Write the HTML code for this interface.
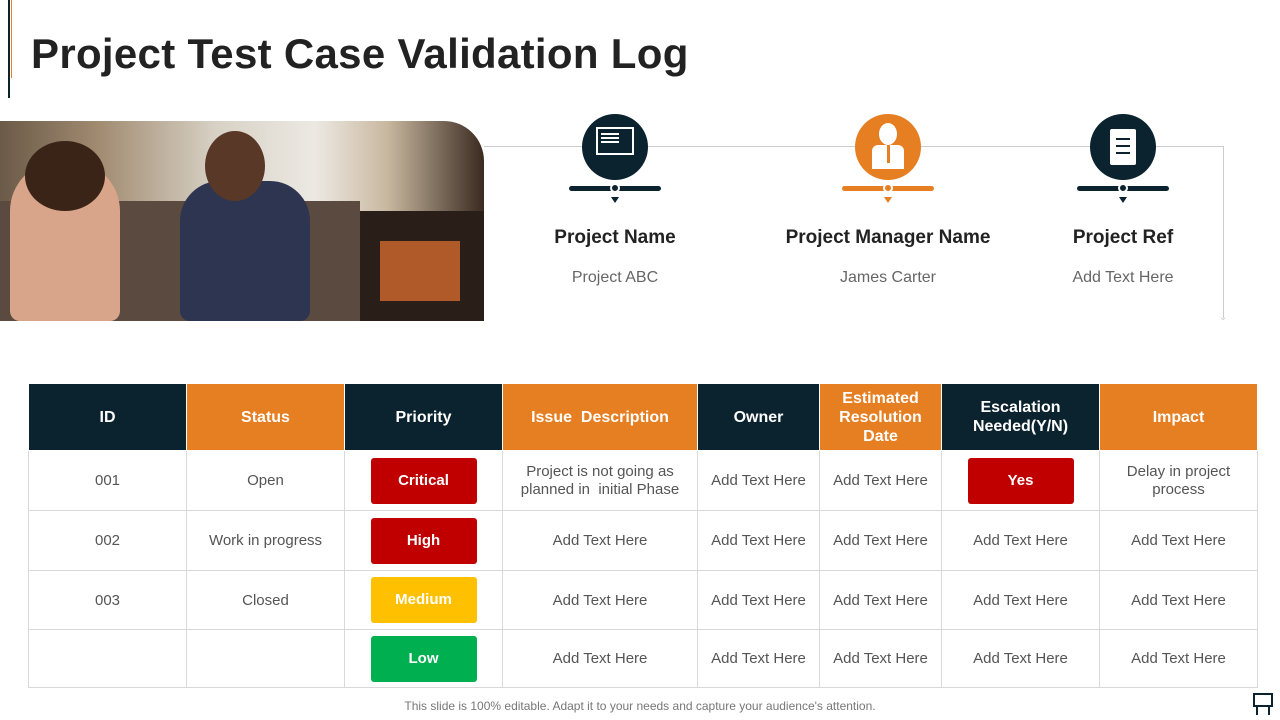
<!DOCTYPE html>
<html><head><meta charset="utf-8"><style>
*{margin:0;padding:0;box-sizing:border-box}
body{width:1280px;height:720px;background:#fff;position:relative;overflow:hidden;font-family:"Liberation Sans",sans-serif}
.abs{position:absolute}
h1{position:absolute;left:31px;top:30px;font-size:42px;font-weight:bold;color:#222;letter-spacing:0.3px}
table{position:absolute;left:28px;top:383px;border-collapse:collapse;table-layout:fixed}
td,th{border:1px solid #d9d9d9;text-align:center;font-size:15px;color:#555;padding:0}
th{color:#fff;font-weight:bold;font-size:16px;height:67px;border-color:#fff;line-height:19px}
.d{background:#0b222f}.o{background:#e67e22}
.b{display:inline-block;width:106px;height:46px;line-height:46px;color:#fff;font-weight:bold;border-radius:3px}
.t{font-size:15px;line-height:18px}
.ic{position:absolute;width:66px;height:66px;border-radius:50%}
.bar{position:absolute;height:5px;width:92px;border-radius:3px}
.dot{position:absolute;width:10px;height:10px;border-radius:50%}
.tri{position:absolute;width:0;height:0;border-left:4px solid transparent;border-right:4px solid transparent;border-top:6px solid}
.lab{position:absolute;width:260px;text-align:center;font-size:19px;font-weight:bold;color:#222}
.sub{position:absolute;width:260px;text-align:center;font-size:16px;color:#666}
</style></head><body>
<div class="abs" style="left:8px;top:0;width:2px;height:98px;background:#0b222f"></div>
<div class="abs" style="left:11px;top:0;width:1px;height:78px;background:#e67e22"></div>
<h1>Project Test Case Validation Log</h1>
<!-- photo -->
<div class="abs" style="left:0;top:121px;width:484px;height:200px;border-top-right-radius:40px;overflow:hidden;background:linear-gradient(90deg,#6b5a48 0%,#a08a70 20%,#d8d2c6 45%,#ece9e3 65%,#c9b8a0 80%,#3a2a20 100%)">
<div class="abs" style="left:0;top:80px;width:360px;height:120px;background:#5a4a40"></div>
<div class="abs" style="left:10px;top:40px;width:110px;height:160px;border-radius:50px 50px 10px 10px;background:#d9a58a"></div>
<div class="abs" style="left:25px;top:20px;width:80px;height:70px;border-radius:50%;background:#3a2418"></div>
<div class="abs" style="left:180px;top:60px;width:130px;height:140px;border-radius:40px 40px 10px 10px;background:#2d3550"></div>
<div class="abs" style="left:205px;top:10px;width:60px;height:70px;border-radius:50%;background:#5a3828"></div>
<div class="abs" style="left:360px;top:90px;width:124px;height:110px;background:#2a1e18"></div>
<div class="abs" style="left:380px;top:120px;width:80px;height:60px;background:#b05a2a"></div>
</div>
<!-- connector line -->
<div class="abs" style="left:484px;top:146px;width:740px;height:1px;background:#ccc"></div>
<div class="abs" style="left:1223px;top:146px;width:1px;height:172px;background:#ccc"></div>
<div class="abs" style="left:1219px;top:312px;color:#ccc;font-size:10px">&#8964;</div>
<!-- icon 1 -->
<div class="ic" style="left:582px;top:114px;background:#0b222f"></div>
<div class="abs" style="left:596px;top:127px;width:38px;height:28px;border:2px solid #fff;background:#0b222f"></div>
<div class="abs" style="left:601px;top:133px;width:18px;height:2px;background:#fff;box-shadow:0 4px #fff,0 8px #fff"></div>
<div class="bar" style="left:569px;top:186px;background:#0b222f"></div>
<div class="dot" style="left:610px;top:183px;background:#0b222f;border:2px solid #fff"></div>
<div class="tri" style="left:611px;top:197px;border-top-color:#0b222f"></div>
<div class="lab" style="left:485px;top:227px">Project Name</div>
<div class="sub" style="left:485px;top:269px">Project ABC</div>
<!-- icon 2 -->
<div class="ic" style="left:855px;top:114px;background:#e67e22"></div>
<div class="abs" style="left:879px;top:123px;width:18px;height:22px;border-radius:50%;background:#fff"></div>
<div class="abs" style="left:872px;top:145px;width:32px;height:24px;border-radius:6px 6px 0 0;background:#fff"></div>
<div class="abs" style="left:887px;top:145px;width:3px;height:18px;background:#e67e22"></div>
<div class="bar" style="left:842px;top:186px;background:#e67e22"></div>
<div class="dot" style="left:883px;top:183px;background:#e67e22;border:2px solid #fff"></div>
<div class="tri" style="left:884px;top:197px;border-top-color:#e67e22"></div>
<div class="lab" style="left:758px;top:227px">Project Manager Name</div>
<div class="sub" style="left:758px;top:269px">James Carter</div>
<!-- icon 3 -->
<div class="ic" style="left:1090px;top:114px;background:#0b222f"></div>
<div class="abs" style="left:1110px;top:129px;width:26px;height:36px;background:#fff;border-radius:2px"></div>
<div class="abs" style="left:1116px;top:138px;width:14px;height:2px;background:#0b222f;box-shadow:0 7px #0b222f,0 14px #0b222f"></div>
<div class="bar" style="left:1077px;top:186px;background:#0b222f"></div>
<div class="dot" style="left:1118px;top:183px;background:#0b222f;border:2px solid #fff"></div>
<div class="tri" style="left:1119px;top:197px;border-top-color:#0b222f"></div>
<div class="lab" style="left:993px;top:227px">Project Ref</div>
<div class="sub" style="left:993px;top:269px">Add Text Here</div>
<table>
<colgroup><col style="width:158px"><col style="width:158px"><col style="width:158px"><col style="width:195px"><col style="width:122px"><col style="width:122px"><col style="width:158px"><col style="width:158px"></colgroup>
<tr><th class="d">ID</th><th class="o">Status</th><th class="d">Priority</th><th class="o">Issue&nbsp; Description</th><th class="d">Owner</th><th class="o">Estimated Resolution Date</th><th class="d">Escalation Needed(Y/N)</th><th class="o">Impact</th></tr>
<tr style="height:60px"><td>001</td><td>Open</td><td><span class="b" style="background:#c00000">Critical</span></td><td class="t">Project is not going as<br>planned in&nbsp; initial Phase</td><td>Add Text Here</td><td>Add Text Here</td><td><span class="b" style="background:#c00000">Yes</span></td><td class="t">Delay in project<br>process</td></tr>
<tr style="height:60px"><td>002</td><td>Work in progress</td><td><span class="b" style="background:#c00000">High</span></td><td>Add Text Here</td><td>Add Text Here</td><td>Add Text Here</td><td>Add Text Here</td><td>Add Text Here</td></tr>
<tr style="height:59px"><td>003</td><td>Closed</td><td><span class="b" style="background:#ffc000">Medium</span></td><td>Add Text Here</td><td>Add Text Here</td><td>Add Text Here</td><td>Add Text Here</td><td>Add Text Here</td></tr>
<tr style="height:58px"><td></td><td></td><td><span class="b" style="background:#00b050">Low</span></td><td>Add Text Here</td><td>Add Text Here</td><td>Add Text Here</td><td>Add Text Here</td><td>Add Text Here</td></tr>
</table>
<div class="abs" style="left:0;width:1280px;top:699px;text-align:center;font-size:12px;color:#777">This slide is 100% editable. Adapt it to your needs and capture your audience's attention.</div>
<div class="abs" style="left:1253px;top:693px;width:20px;height:14px;border:2px solid #0b222f"></div>
<div class="abs" style="left:1256px;top:707px;width:14px;height:8px;border-left:2px solid #0b222f;border-right:2px solid #0b222f"></div>
</body></html>
